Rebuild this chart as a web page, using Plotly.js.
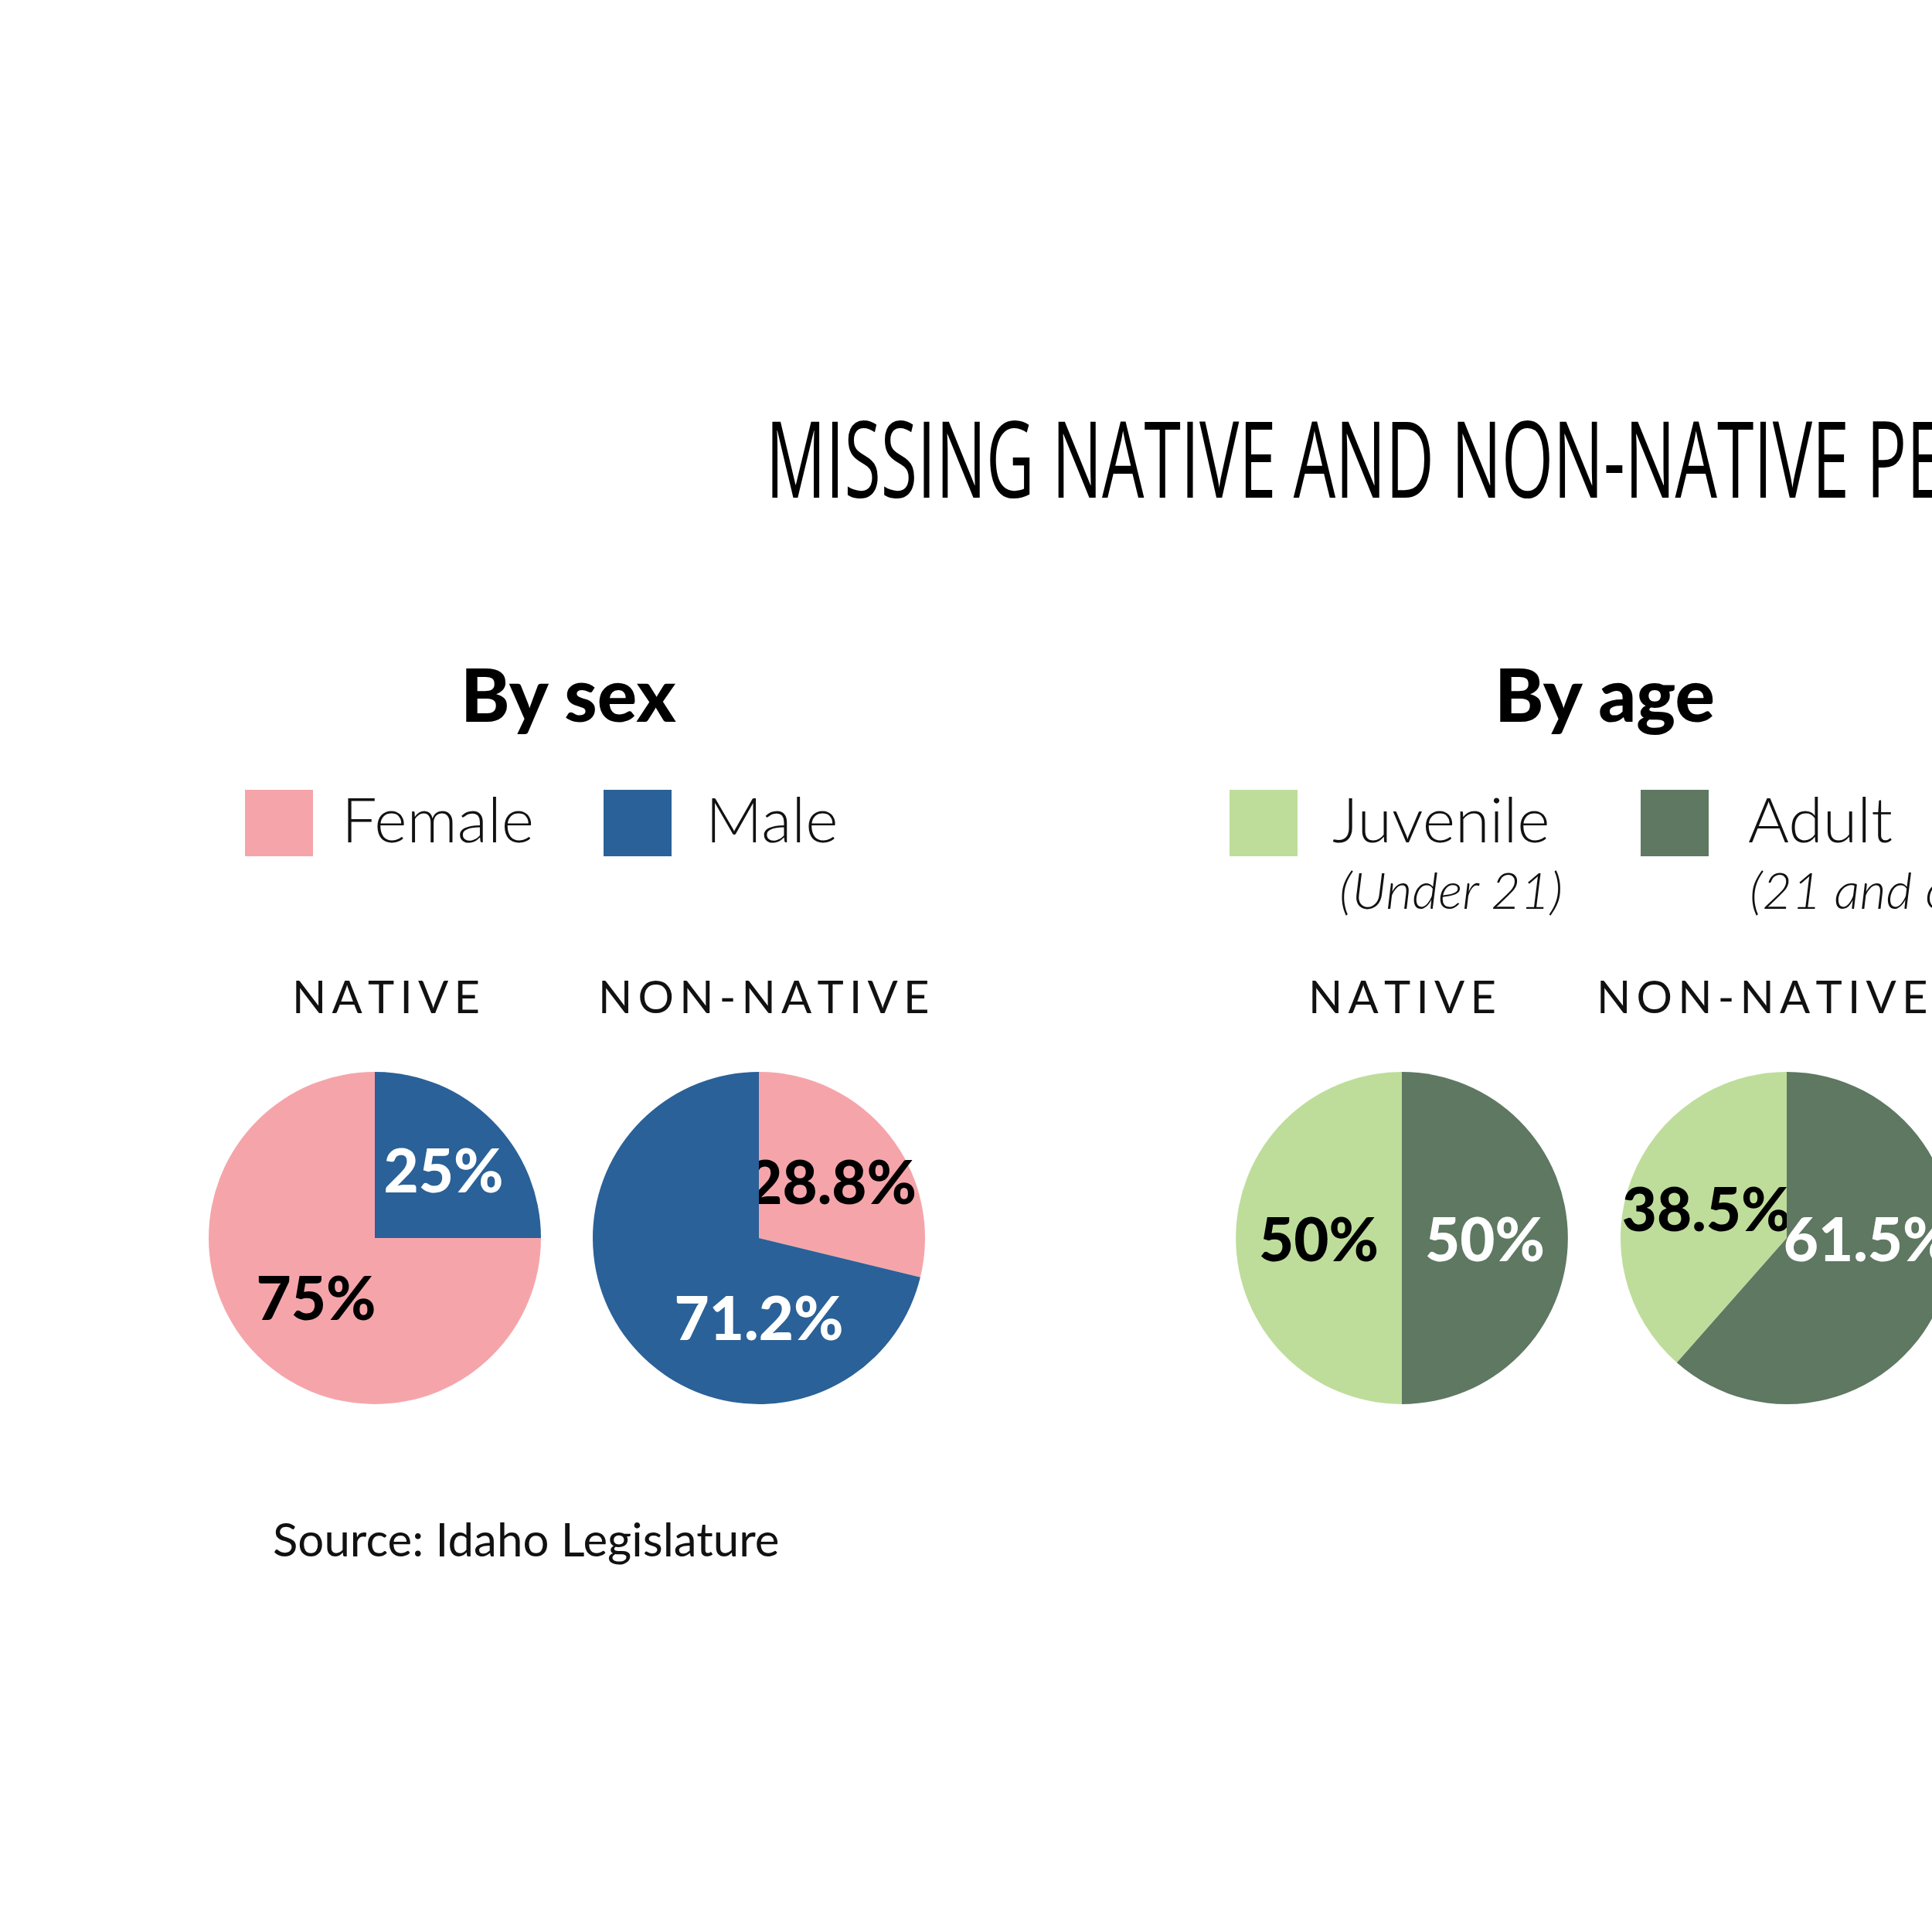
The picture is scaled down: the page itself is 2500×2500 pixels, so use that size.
<!DOCTYPE html>
<html>
<head>
<meta charset="utf-8">
<script src="https://cdn.plot.ly/plotly-3.0.1.min.js"></script>
<style>
  html, body { margin: 0; padding: 0; overflow: hidden; background: #fff; }
</style>
</head>
<body>
<div id="chart"></div>
<script>
// data
var sexLabels = ['Female', 'Male'];
var sexNative = [75, 25];
var sexNonNative = [28.8, 71.2];

var ageLabels = ['Juvenile', 'Adult'];
var ageNative = [50, 50];
var ageNonNative = [38.5, 61.5];

var sexColors = ['#F5A5AA', '#2A6198'];
var sexText = ['#000000', '#ffffff'];
var ageColors = ['#BEDD9A', '#5E7862'];
var ageText = ['#000000', '#ffffff'];

// page is wider than the window so the right pie and title run off the edge
var W = 2800, H = 2500;
var R = 215, CY = 1602;

function dom(cx) {
    return {
        x: [(cx - R) / W, (cx + R) / W],
        y: [(H - CY - R) / H, (H - CY + R) / H]
    };
}

// firstEndsAtTop: first slice sits just left of 12 o'clock
function pie(labels, values, colors, textColors, cx, firstEndsAtTop) {
    var total = values[0] + values[1];
    return {
        type: 'pie',
        labels: labels,
        values: values,
        sort: false,
        direction: 'clockwise',
        rotation: firstEndsAtTop ? 360 * (1 - values[0] / total) : 0,
        domain: dom(cx),
        marker: { colors: colors, line: { width: 0 } },
        texttemplate: '%{value}%',
        textposition: 'inside',
        insidetextorientation: 'horizontal',
        textfont: { family: 'Lato, "Open Sans", sans-serif', size: 78, weight: 900, color: textColors },
        hoverinfo: 'label+value',
        showlegend: false
    };
}

var data = [
    pie(sexLabels, sexNative, sexColors, sexText, 485, true),
    pie(sexLabels, sexNonNative, sexColors, sexText, 982, false),
    pie(ageLabels, ageNative, ageColors, ageText, 1814, true),
    pie(ageLabels, ageNonNative, ageColors, ageText, 2312, true)
];

function px(x) { return x / W; }
function py(y) { return 1 - y / H; }

var lightFont = { family: 'Lato, "Open Sans", sans-serif', size: 81, color: '#111', weight: 300 };
var subFont = { family: 'Lato, sans-serif', size: 66, color: '#111', weight: 300 };
var capsFont = { family: 'Lato, "Open Sans", sans-serif', size: 58, color: '#111' };
var headFont = { family: 'Lato, "Open Sans", sans-serif', size: 96, color: '#000', weight: 900 };

function note(text, x, y, font, anchor) {
    return {
        text: text, x: px(x), y: py(y), xref: 'paper', yref: 'paper',
        xanchor: anchor || 'left', yanchor: 'middle', showarrow: false, font: font
    };
}

function swatch(x0, color) {
    return {
        type: 'rect', xref: 'paper', yref: 'paper',
        x0: px(x0), x1: px(x0 + 88), y0: py(1108), y1: py(1022),
        fillcolor: color, line: { width: 0 }
    };
}

function spaced(s) { return s.split('').join('\u2009'); }

var annotations = [
    note('By sex', 735, 896, headFont, 'center'),
    note('By age', 2076, 896, headFont, 'center'),
    note(sexLabels[0], 440, 1058, lightFont),
    note(sexLabels[1], 911, 1058, lightFont),
    note(ageLabels[0], 1722, 1058, lightFont),
    note(ageLabels[1], 2260, 1058, lightFont),
    note('<i>(Under 21)</i>', 1731, 1151, subFont),
    note('<i>(21 and older)</i>', 2262, 1151, subFont),
    note(spaced('NATIVE'), 499, 1288, capsFont, 'center'),
    note(spaced('NON-NATIVE'), 988, 1288, capsFont, 'center'),
    note(spaced('NATIVE'), 1814, 1288, capsFont, 'center'),
    note(spaced('NON-NATIVE'), 2280, 1288, capsFont, 'center'),
    note('Source: Idaho Legislature', 351, 1991, { family: 'Lato, "Open Sans", sans-serif', size: 60, color: '#111' })
];

var titleText = 'MISSING NATIVE AND NON-NATIVE PEOPLE IN IDAHO';
var titleLeft = 991;

var layout = {
    width: W,
    height: H,
    margin: { l: 0, r: 0, t: 0, b: 0 },
    paper_bgcolor: '#ffffff',
    title: {
        text: titleText,
        x: px(titleLeft), xanchor: 'left', xref: 'paper',
        y: py(596), yanchor: 'middle', yref: 'paper',
        font: { family: '"Open Sans", sans-serif', size: 138, color: '#000' }
    },
    uniformtext: { mode: 'show', minsize: 78 },
    shapes: [
        swatch(317, sexColors[0]),
        swatch(781, sexColors[1]),
        swatch(1591, ageColors[0]),
        swatch(2123, ageColors[1])
    ],
    annotations: annotations
};

Plotly.newPlot('chart', data, layout, { displayModeBar: false, staticPlot: true }).then(function(gd) {
    // the original title face is a very narrow condensed font: squeeze horizontally
    var t = gd.querySelector('.gtitle');
    if (!t) return;
    var target = 1402; // width of "MISSING NATIVE AND NON-NATIVE"
    var w = t.getSubStringLength(0, 29);
    var sx = target / w;
    var x0 = t.getBBox().x;
    t.setAttribute('transform', 'translate(' + x0 + ',0) scale(' + sx + ',1) translate(' + (-x0) + ',0)');
});
</script>
</body>
</html>
